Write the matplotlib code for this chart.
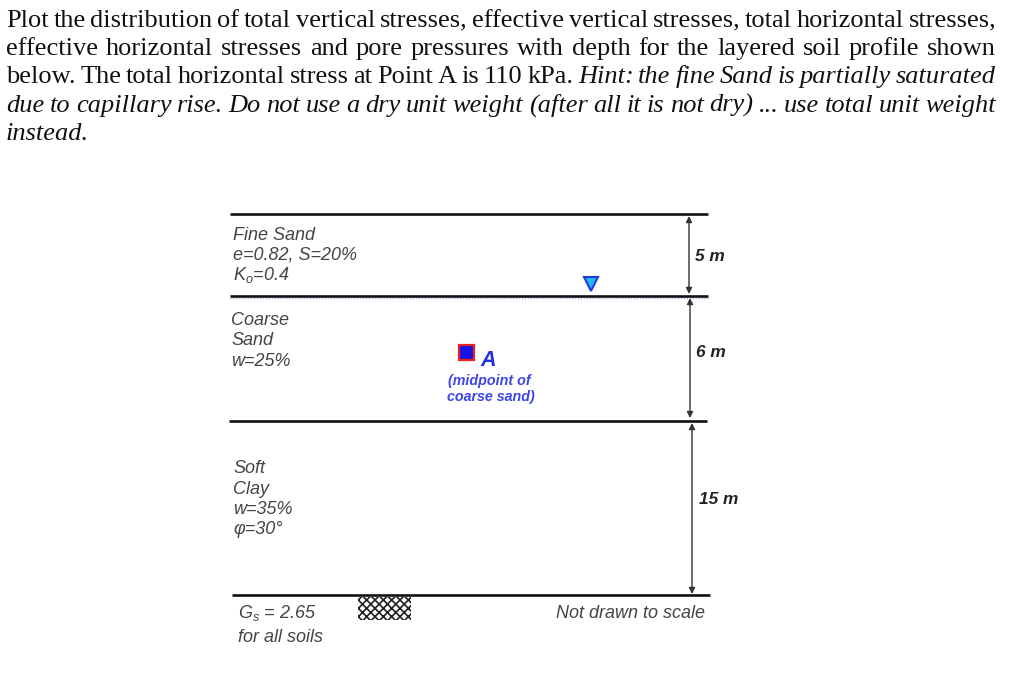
#!/usr/bin/env python3
import matplotlib
matplotlib.use('Agg')
import matplotlib.pyplot as plt
from matplotlib.patches import Polygon, Rectangle

plt.rcParams['mathtext.fontset'] = 'custom'
plt.rcParams['mathtext.it'] = 'Liberation Sans:italic'
plt.rcParams['mathtext.rm'] = 'Liberation Sans:italic'
plt.rcParams['hatch.linewidth'] = 1.2

# Question text, (normal part, italic part) for each line
question = [
  ('Plot the distribution of total vertical stresses, effective vertical stresses, total horizontal stresses,', ''),
  ('effective horizontal stresses and pore pressures with depth for the layered soil profile shown', ''),
  ('below. The total horizontal stress at Point A is 110 kPa.', 'Hint: the fine Sand is partially saturated'),
  ('', 'due to capillary rise. Do not use a dry unit weight (after all it is not dry) ... use total unit weight'),
  ('', 'instead.'),
]
justified = [True, True, True, True, False]

# Soil layers: boundary line (x0, x1, y) in picture pixels
boundary_x0 = [230, 230, 229, 232]
boundary_x1 = [708, 708, 707, 710]
boundary_y = [214, 296, 421, 595]

# Dimension arrows
dim_x = [689, 690, 692]
dim_top = [216, 298, 423]
dim_bot = [294, 418, 594]
dim_labels = ['5 m', '6 m', '15 m']
dim_label_x = [695, 696, 699]
dim_label_y = [261, 357, 504]

# Soil descriptions, one row per text line (y is the baseline)
soil_text = ['Fine Sand', 'e=0.82, S=20%', 'K$_o$=0.4',
             'Coarse', 'Sand', 'w=25%',
             'Soft', 'Clay', 'w=35%', '\u03c6=30\u00b0',
             'G$_s$ = 2.65', 'for all soils', 'Not drawn to scale']
soil_x = [233, 233, 233, 231, 231, 231, 233, 233, 233, 233, 238, 238, 556]
soil_y = [240, 260, 280, 325, 345, 366, 473, 494, 514, 534, 618, 642, 618]

fig = plt.figure(figsize=(10.24, 6.88), dpi=100)
ax = fig.add_axes([0, 0, 1, 1])
ax.set_xlim(0, 1024)
ax.set_ylim(688, 0)
ax.axis('off')
renderer = fig.canvas.get_renderer()

# Draw one line word by word so that it can be justified like the original
def draw_line(normal, italic, y, justify):
  words = [(w, 'normal') for w in normal.split()] + [(w, 'italic') for w in italic.split()]
  items = [ax.text(0, y, w, family='Liberation Serif', style=st, fontsize=19,
                   color='#111111', va='baseline', ha='left') for w, st in words]
  widths = [t.get_window_extent(renderer).width for t in items]
  gap = 5.5
  if justify: gap = (996 - 6 - sum(widths)) / (len(items) - 1)
  x = 6
  for t, w in zip(items, widths):
    t.set_x(x)
    x += w + gap

for i, (normal, italic) in enumerate(question):
  draw_line(normal, italic, 27 + i * 28.2, justified[i])

for x0, x1, y in zip(boundary_x0, boundary_x1, boundary_y):
  ax.plot([x0, x1], [y, y], color='#111111', lw=1.9, solid_capstyle='butt')
ax.plot([230, 708], [298, 298], color='#9a9ad8', lw=0.8, ls=':')

for x, top, bot, lab, lx, ly in zip(dim_x, dim_top, dim_bot, dim_labels, dim_label_x, dim_label_y):
  ax.annotate('', xy=(x, top), xytext=(x, bot),
              arrowprops=dict(arrowstyle='<|-|>', color='#333333', lw=1.0, mutation_scale=9,
                              shrinkA=0, shrinkB=0))
  ax.text(lx, ly, lab, family='Liberation Sans', style='italic', weight='bold', fontsize=12.4,
          color='#222222', va='baseline', ha='left')

for s, x, y in zip(soil_text, soil_x, soil_y):
  ax.text(x, y, s, family='Liberation Sans', style='italic', fontsize=13,
          color='#444444', va='baseline', ha='left')

# Water table symbol and point A
ax.add_patch(Polygon([(584, 277), (598, 277), (591, 291)], closed=True,
                     facecolor='#22b8f0', edgecolor='#1c3ce0', lw=1.5))
ax.add_patch(Rectangle((459, 345), 15, 15, facecolor='#1414e6', edgecolor='#f02020', lw=1.6))
ax.text(480, 366, 'A', family='Liberation Sans', style='italic', weight='bold', fontsize=15.5,
        color='#2030e0', va='baseline', ha='left')
ax.text(489, 385, '(midpoint of', family='Liberation Sans', style='italic', weight='bold', fontsize=10.3,
        color='#3a46e6', va='baseline', ha='center')
ax.text(491, 401, 'coarse sand)', family='Liberation Sans', style='italic', weight='bold', fontsize=10.3,
        color='#3a46e6', va='baseline', ha='center')

# Hatched patch below the base line
ax.add_patch(Rectangle((358, 597), 53, 23, facecolor='white', edgecolor='#222222', lw=0, hatch='xxxx'))

fig.savefig('out.png', dpi=100)
